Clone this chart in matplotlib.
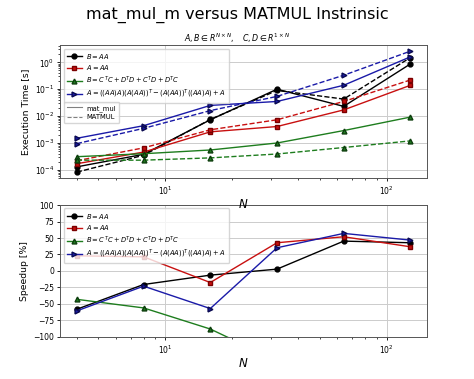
import matplotlib
matplotlib.use("Agg")
import matplotlib.pyplot as plt
from matplotlib.lines import Line2D

N = [4, 8, 16, 32, 64, 128]

labels = [r"$B = AA$", r"$A = AA$",
          r"$B = C^TC + D^TD + C^TD + D^TC$",
          r"$A = ((AA)A)(A(AA))^T - (A(AA))^T((AA)A) + A$"]

# execution times [s]
t_matmul_m = [
    [1.3e-4, 3.8e-4, 7.3e-3, 1.0e-1, 2.3e-2, 0.87],    # B = AA
    [1.7e-4, 4.6e-4, 2.6e-3, 4.1e-3, 1.7e-2, 0.14],    # A = AA
    [3.1e-4, 4.0e-4, 5.5e-4, 1.0e-3, 2.9e-3, 9.2e-3],  # B = C^TC ...
    [1.5e-3, 4.4e-3, 2.5e-2, 3.5e-2, 0.14, 1.6],       # A = ((AA)A)...
]
t_MATMUL = [
    [8.3e-5, 3.5e-4, 7.5e-3, 9.0e-2, 4.3e-2, 1.5],
    [2.2e-4, 6.6e-4, 3.1e-3, 7.3e-3, 3.5e-2, 0.22],
    [2.3e-4, 2.3e-4, 2.8e-4, 3.9e-4, 6.8e-4, 1.2e-3],
    [9.5e-4, 3.5e-3, 1.6e-2, 5.4e-2, 0.33, 2.6],
]

# speedup [%]
speedup = [
    [-58, -20.5, -6.3, 2.8, 45.3, 42.8],
    [23, 21.5, -17.5, 42.8, 51.9, 36.7],
    [-43, -56, -88, -136, -320, -650],
    [-60.5, -23, -57, 35.2, 57, 46.8],
]

colors = ["black", "#c81010", "#1e7d1e", "#1a1aa8"]
markers = ["o", "s", "^", ">"]
edge = ["black", "#7a0000", "#0d3d0d", "#0a0a50"]

fig = plt.figure(figsize=(4.74, 3.79), dpi=100)
fig.text(0.5, 0.962, "mat_mul_m versus MATMUL Instrinsic", ha="center", va="center", fontsize=11.5)
fig.text(0.5, 0.90, r"$A,B \in R^{N\times N},\quad C,D \in R^{1\times N}$",
         ha="center", va="center", fontsize=5.7)

ax1 = fig.add_axes([0.127, 0.530, 0.774, 0.351])
ax2 = fig.add_axes([0.127, 0.111, 0.774, 0.348])
ax1.set_zorder(3)

handles = []
for i in range(4):
    h, = ax1.plot(N, t_matmul_m[i], color=colors[i], marker=markers[i], ms=3.5,
                  mec=edge[i], lw=1.0, ls="-", label=labels[i])
    ax1.plot(N, t_MATMUL[i], color=colors[i], marker=markers[i], ms=3.5,
             mec=edge[i], lw=1.0, ls="--")
    handles.append(h)
    ax2.plot(N, speedup[i], color=colors[i], marker=markers[i], ms=3.5,
             mec=edge[i], lw=1.0, label=labels[i])

for ax in (ax1, ax2):
    ax.set_xscale("log")
    ax.grid(True, color="#cccccc", lw=0.7)
    ax.tick_params(labelsize=5.5, length=2.5, width=0.6, pad=2)
    ax.tick_params(which="minor", length=1.5, width=0.5)
    ax.set_xlabel(r"$N$", fontsize=8.5, labelpad=1)
    for s in ax.spines.values():
        s.set_linewidth(0.7)
        s.set_color("#555555")

ax1.set_yscale("log")
ax1.set_ylabel("Execution Time [s]", fontsize=6.7, labelpad=3)
leg_kw = dict(fontsize=4.9, framealpha=0.8, borderpad=0.45, labelspacing=0.35,
              handlelength=2.2, handletextpad=0.7)
leg1 = ax1.legend(handles=handles, loc="upper left", **leg_kw)
ax1.add_artist(leg1)
style_handles = [Line2D([0], [0], color="gray", lw=0.8, ls="-"),
                 Line2D([0], [0], color="gray", lw=0.8, ls="--")]
ax1.legend(style_handles, ["mat_mul", "MATMUL"], loc="upper left",
           bbox_to_anchor=(0.0, 0.60), **leg_kw)

ax2.set_ylim(-100, 100)
ax2.set_yticks([-100, -75, -50, -25, 0, 25, 50, 75, 100])
ax2.set_ylabel("Speedup [%]", fontsize=6.7, labelpad=3)
ax2.legend(loc="upper left", **leg_kw)

fig.savefig("out.png", dpi=100)
